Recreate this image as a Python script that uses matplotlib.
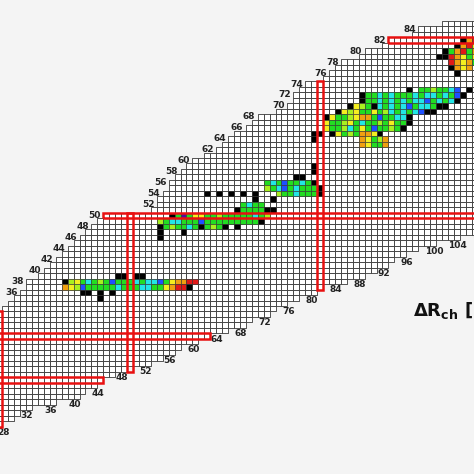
import matplotlib
matplotlib.use('Agg')
from matplotlib import pyplot as plt
from matplotlib.patches import Rectangle
from matplotlib.collections import PatchCollection

# chart rows: proton number Z, first and last neutron number N in each row
row_z    = list(range(10, 86))
row_nmin = [26, 26, 27, 27, 27, 27, 27, 27, 27, 27,     # Z 10-19
            27, 27, 27, 27, 27, 27, 27, 27, 27, 27,     # Z 20-29
            27, 27, 27, 29, 30, 31, 32, 33, 33, 35,     # Z 30-39
            36, 37, 38, 39, 40, 41, 42, 43, 44, 45,     # Z 40-49
            46, 54, 55, 55, 56, 57, 57, 58, 59, 60,     # Z 50-59
            61, 63, 65, 66, 67, 68, 70, 71, 72, 75,     # Z 60-69
            77, 78, 78, 79, 80, 83, 84, 85, 86, 89,     # Z 70-79
            90, 93, 94, 98, 99, 103]                    # Z 80-85
row_nmax = [26, 27, 28, 30, 31, 33, 37, 41, 42, 44,     # Z 10-19
            45, 47, 49, 53, 55, 57, 58, 61, 63, 66,     # Z 20-29
            69, 70, 73, 74, 76, 78, 81, 82, 86, 89,     # Z 30-39
            91, 93, 94, 96, 98, 101, 105, 110, 110, 110,  # Z 40-49
            110, 110, 110, 110, 110, 110, 110, 110, 110, 110,
            110, 110, 110, 110, 110, 110, 110, 110, 110, 110,
            110, 110, 110, 110, 110, 110, 110, 110, 110, 110,
            110, 110, 110, 110, 110, 110]

# measured cells: (Z, first N, colour codes); '.' = not measured
measured = [
    (39, 48, "kk.kk"),
    (38, 39, "klygcglgbgggcgccbgyoorr"),
    (37, 39, "oylbgggggcgggccggyorrk"),
    (36, 42, "kk.k.k"),
    (35, 45, "k"),
    (57, 78, "kk"),
    (56, 73, "gcgbggcgk"),
    (55, 73, "lgcbgcgggk"),
    (54, 63, "k.k.k.k.k...lggcgggk"),
    (53, 71, "k..k"),
    (52, 69, "gcgg"),
    (51, 68, "kggggkk"),
    (50, 57, "kgpgyygglgggggcgl"),
    (49, 55, "lgccgggbgggggggggk"),
    (48, 55, "kglggcgkglgk.k"),
    (47, 55, "k...k"),
    (46, 55, "k"),
    (58, 81, "k"),
    (59, 81, "k"),
    (73, 97, "k.gglggcb.k"),
    (72, 89, "kggcgcgggcgccgcgbk"),
    (71, 89, "kggcgcgcgccbgcgck"),
    (70, 87, "kylgkcgcgcbgccgkk"),
    (69, 85, "kylyggyglcgcgcbkk"),
    (68, 83, "kygglyoogbggcck"),
    (67, 83, "ygglygcgglgyggk"),
    (66, 83, "ygglcgygbgglgk"),
    (65, 81, "kk.kyglgooyk"),
    (64, 81, "k.......oyglo"),
    (63, 89, "oyggo"),
    (82, 106, "kor"),
    (81, 105, "kory"),
    (80, 103, "kgorgo"),
    (79, 102, "kkroygy"),
    (78, 104, "royog"),
    (77, 104, "koyo"),
    (76, 105, "k"),
]
code_colors = {'k': '#000000', 'p': '#4a10a0', 'b': '#1e50ff', 'c': '#22e6e6',
               'g': '#22dd22', 'l': '#a8f020', 'y': '#f4ee20', 'o': '#f0a010',
               'r': '#e01818'}

# magic-number outlines: (Z, N from, N to) and (N, Z from, Z to)
magic_rows = [(20, 27, 45), (28, 27, 63), (50, 46, 110), (82, 94, 110)]
magic_cols = [(28, 12, 32), (50, 22, 50), (82, 37, 74)]

fig = plt.figure(figsize=(4.74, 4.74), dpi=100)
fig.patch.set_facecolor('#f4f4f4')
ax = fig.add_axes([0, 0, 1, 1])
ax.set_facecolor('#f4f4f4')
ax.set_xlim(28.11, 107.91)
ax.set_ylim(2.85, 89.33)
ax.axis('off')

cells = []
for z, n0, n1 in zip(row_z, row_nmin, row_nmax):
    for n in range(n0, n1 + 1):
        cells.append(Rectangle((n - 0.5, z - 0.5), 1, 1))
ax.add_collection(PatchCollection(cells, facecolor='white', edgecolor='#383838', linewidth=0.6))

filled, fcols = [], []
for z, n0, codes in measured:
    for i, c in enumerate(codes):
        if c == '.':
            continue
        filled.append(Rectangle((n0 + i - 0.5, z - 0.5), 1, 1))
        fcols.append(code_colors[c])
ax.add_collection(PatchCollection(filled, facecolor=fcols, edgecolor='#383838', linewidth=0.4))

for z, n0, n1 in magic_rows:
    ax.add_patch(Rectangle((n0 - 0.5, z - 0.5), n1 - n0 + 1, 1, fill=False,
                           edgecolor='#e81010', linewidth=1.8, zorder=5))
for n, z0, z1 in magic_cols:
    ax.add_patch(Rectangle((n - 0.5, z0 - 0.5), 1, z1 - z0 + 1, fill=False,
                           edgecolor='#e81010', linewidth=1.8, zorder=5))

# proton labels at the left end of even rows
for z, n0 in zip(row_z, row_nmin):
    if z % 2 == 0 and 36 <= z <= 84:
        ax.text(n0 - 0.9, z, str(z), ha='right', va='center', fontsize=6.5,
                fontweight='bold', color='#222222')

# neutron labels under the columns
for n in range(28, 112, 4):
    zs = [z for z, a, b in zip(row_z, row_nmin, row_nmax) if a <= n <= b]
    ax.text(n - 0.4, min(zs) - 0.7, str(n), ha='left', va='top', fontsize=6.5,
            fontweight='bold', color='#222222')

ax.text(97.6, 32.6, r'$\mathbf{\Delta R_{ch}}$ [', ha='left', va='center',
        fontsize=13, fontweight='bold', color='#111111')

plt.savefig('out.png', dpi=100, facecolor=fig.get_facecolor())
